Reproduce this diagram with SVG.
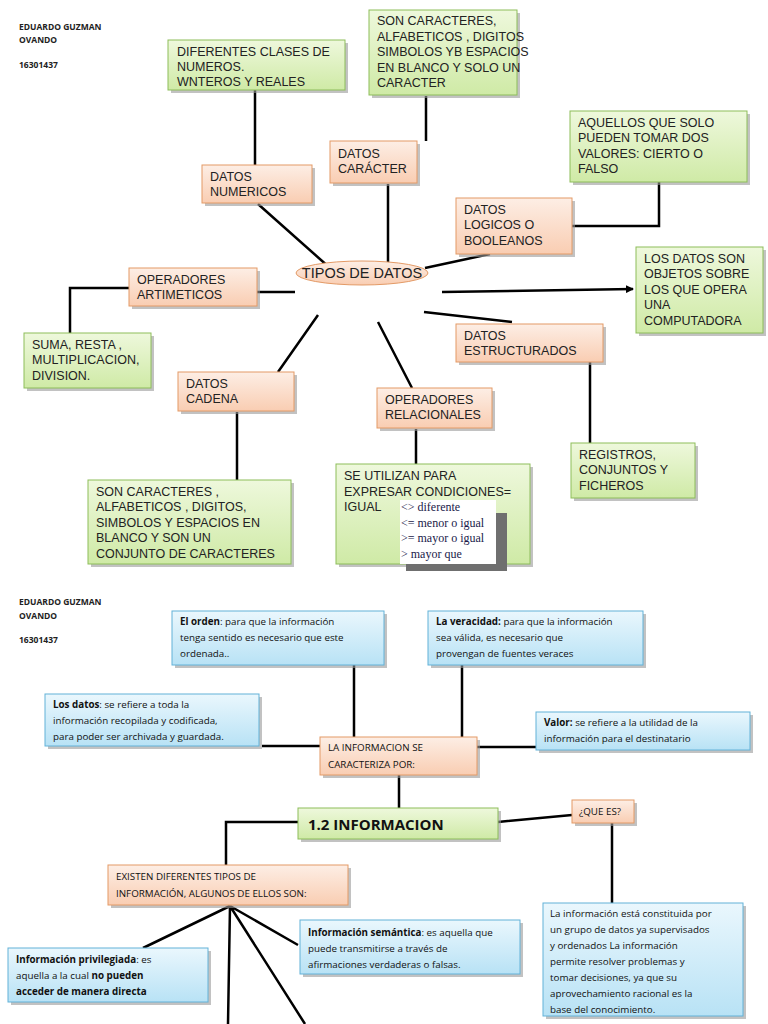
<svg xmlns="http://www.w3.org/2000/svg" width="768" height="1024" viewBox="0 0 768 1024">
<defs>
<linearGradient id="gg" x1="0" y1="0" x2="0" y2="1"><stop offset="0" stop-color="#eef8dc"/><stop offset="1" stop-color="#cfeaa6"/></linearGradient>
<linearGradient id="go" x1="0" y1="0" x2="0" y2="1"><stop offset="0" stop-color="#fdeee5"/><stop offset="1" stop-color="#f9cdb2"/></linearGradient>
<linearGradient id="gb" x1="0" y1="0" x2="0" y2="1"><stop offset="0" stop-color="#eaf7fd"/><stop offset="1" stop-color="#b8e2f5"/></linearGradient>
<marker id="arr" markerWidth="8" markerHeight="8" refX="7" refY="4" orient="auto" markerUnits="userSpaceOnUse"><path d="M0,0 L8,4 L0,8 z" fill="#000"/></marker>
</defs>
<style>
.g{fill:url(#gg);stroke:#8dbd5a;stroke-width:1}
.o{fill:url(#go);stroke:#e39a66;stroke-width:1}
.b{fill:url(#gb);stroke:#62b2d8;stroke-width:1}
.sh{fill:#9a9a9a;opacity:0.6}
.t{font-family:"Liberation Sans",Arial,sans-serif;font-size:12.5px;fill:#222}
.c{font-family:"Open Sans","Liberation Sans",sans-serif;font-size:9.8px;fill:#111}
.n{font-family:"Open Sans","Liberation Sans",sans-serif;font-size:8.5px;font-weight:bold;fill:#222}
.s{font-family:"Liberation Serif","Times New Roman",serif;font-size:12px;fill:#1a1a4a}
.ln{stroke:#000;stroke-width:2.5;fill:none}
</style>
<rect width="768" height="1024" fill="#fff"/>
<g id="connectors">
<path class="ln" d="M255,90V166 M426,96V141 M258,204L330,268 M388,184V266 M659,182V226H572 M490,254L425,268 M257,292H295 M129,288H70V335 M424,312L512,322 M590,362V444 M318,315L278,372 M237,412V480 M378,322L412,388 M416,429V464"/>
<path class="ln" d="M442,292L633,289" marker-end="url(#arr)"/>
<path class="ln" d="M354,665V738 M462,665V738 M262,746H320 M477,747H536 M399,775V808 M298,822H226V866 M498,822L572,815 M612,823V903 M230,906L143,948 M230,906L228,1024 M230,906L305,1024 M230,906L298,945"/>
</g>
<g id="author1"><text class="n" x="19" y="30">EDUARDO GUZMAN</text><text class="n" x="19" y="43">OVANDO</text><text class="n" x="19" y="68">16301437</text></g>
<g id="n-clases"><rect class="sh" x="171" y="43" width="177" height="50"/><rect class="g" x="168" y="40" width="177" height="50"/><text class="t" x="177" y="56">DIFERENTES CLASES DE</text><text class="t" x="177" y="71">NUMEROS.</text><text class="t" x="177" y="86">WNTEROS Y REALES</text></g>
<g id="n-soncar"><rect class="sh" x="372" y="13" width="148" height="85"/><rect class="g" x="369" y="10" width="148" height="85"/><text class="t" x="377" y="25">SON CARACTERES,</text><text class="t" x="377" y="41">ALFABETICOS , DIGITOS</text><text class="t" x="377" y="56">SIMBOLOS YB ESPACIOS</text><text class="t" x="377" y="72">EN BLANCO Y SOLO UN</text><text class="t" x="377" y="87">CARACTER</text></g>
<g id="n-num"><rect class="sh" x="205" y="168" width="110" height="38"/><rect class="o" x="202" y="165" width="110" height="38"/><text class="t" x="210" y="181">DATOS</text><text class="t" x="210" y="196">NUMERICOS</text></g>
<g id="n-car"><rect class="sh" x="333" y="144" width="87" height="42"/><rect class="o" x="330" y="141" width="87" height="42"/><text class="t" x="338" y="158">DATOS</text><text class="t" x="338" y="173">CARÁCTER</text></g>
<g id="n-aquellos"><rect class="sh" x="573" y="114" width="177" height="71"/><rect class="g" x="570" y="111" width="177" height="71"/><text class="t" x="578" y="127">AQUELLOS QUE SOLO</text><text class="t" x="578" y="142">PUEDEN TOMAR DOS</text><text class="t" x="578" y="158">VALORES: CIERTO O</text><text class="t" x="578" y="173">FALSO</text></g>
<g id="n-log"><rect class="sh" x="459" y="201" width="116" height="56"/><rect class="o" x="456" y="198" width="116" height="56"/><text class="t" x="464" y="214">DATOS</text><text class="t" x="464" y="229">LOGICOS O</text><text class="t" x="464" y="245">BOOLEANOS</text></g>
<g id="n-tipos"><ellipse cx="362" cy="273" rx="66" ry="12" fill="url(#go)" stroke="#e39a66"/><text class="t" x="362" y="278" text-anchor="middle" style="font-size:14.5px">TIPOS DE DATOS</text></g>
<g id="n-arit"><rect class="sh" x="132" y="271" width="128" height="38"/><rect class="o" x="129" y="268" width="128" height="38"/><text class="t" x="137" y="284">OPERADORES</text><text class="t" x="137" y="299">ARTIMETICOS</text></g>
<g id="n-suma"><rect class="sh" x="27" y="336" width="127" height="55"/><rect class="g" x="24" y="333" width="127" height="55"/><text class="t" x="32" y="349">SUMA, RESTA ,</text><text class="t" x="32" y="364">MULTIPLICACION,</text><text class="t" x="32" y="380">DIVISION.</text></g>
<g id="n-losdatos"><rect class="sh" x="639" y="250" width="127" height="86"/><rect class="g" x="636" y="247" width="127" height="86"/><text class="t" x="644" y="263">LOS DATOS SON</text><text class="t" x="644" y="278">OBJETOS SOBRE</text><text class="t" x="644" y="294">LOS QUE OPERA</text><text class="t" x="644" y="309">UNA</text><text class="t" x="644" y="325">COMPUTADORA</text></g>
<g id="n-estr"><rect class="sh" x="459" y="327" width="147" height="38"/><rect class="o" x="456" y="324" width="147" height="38"/><text class="t" x="464" y="340">DATOS</text><text class="t" x="464" y="355">ESTRUCTURADOS</text></g>
<g id="n-reg"><rect class="sh" x="574" y="446" width="124" height="55"/><rect class="g" x="571" y="443" width="124" height="55"/><text class="t" x="579" y="459">REGISTROS,</text><text class="t" x="579" y="474">CONJUNTOS Y</text><text class="t" x="579" y="490">FICHEROS</text></g>
<g id="n-cad"><rect class="sh" x="181" y="375" width="116" height="39"/><rect class="o" x="178" y="372" width="116" height="39"/><text class="t" x="186" y="388">DATOS</text><text class="t" x="186" y="403">CADENA</text></g>
<g id="n-soncar2"><rect class="sh" x="91" y="483" width="203" height="84"/><rect class="g" x="88" y="480" width="203" height="84"/><text class="t" x="96" y="496">SON CARACTERES ,</text><text class="t" x="96" y="511">ALFABETICOS , DIGITOS,</text><text class="t" x="96" y="527">SIMBOLOS Y ESPACIOS EN</text><text class="t" x="96" y="542">BLANCO Y SON UN</text><text class="t" x="96" y="558">CONJUNTO DE CARACTERES</text></g>
<g id="n-rel"><rect class="sh" x="380" y="391" width="115" height="40"/><rect class="o" x="377" y="388" width="115" height="40"/><text class="t" x="385" y="404">OPERADORES</text><text class="t" x="385" y="419">RELACIONALES</text></g>
<g id="n-util"><rect class="sh" x="339" y="467" width="194" height="100"/><rect class="g" x="336" y="464" width="194" height="100"/><text class="t" x="344" y="480">SE UTILIZAN PARA</text><text class="t" x="344" y="496">EXPRESAR CONDICIONES=</text><text class="t" x="344" y="511">IGUAL</text>
<rect x="406" y="513" width="101" height="58" fill="#6f6f6f"/><rect x="400" y="500" width="96" height="64" fill="#fff"/><text class="s" x="401" y="511">&lt;&gt; diferente</text><text class="s" x="401" y="527">&lt;= menor o igual</text><text class="s" x="401" y="542">&gt;= mayor o igual</text><text class="s" x="401" y="558">&gt; mayor que</text></g>
<g id="author2"><text class="n" x="19" y="605">EDUARDO GUZMAN</text><text class="n" x="19" y="619">OVANDO</text><text class="n" x="19" y="643">16301437</text></g>
<g id="n-orden"><rect class="sh" x="175" y="614" width="212" height="54"/><rect class="b" x="172" y="611" width="212" height="54"/><text class="c" x="180" y="625"><tspan font-weight="bold">El orden</tspan>: para que la información</text><text class="c" x="180" y="641">tenga sentido es necesario que este</text><text class="c" x="180" y="657">ordenada..</text></g>
<g id="n-ver"><rect class="sh" x="431" y="614" width="215" height="54"/><rect class="b" x="428" y="611" width="215" height="54"/><text class="c" x="436" y="625"><tspan font-weight="bold">La veracidad:</tspan> para que la información</text><text class="c" x="436" y="641">sea válida, es necesario que</text><text class="c" x="436" y="657">provengan de fuentes veraces</text></g>
<g id="n-datos"><rect class="sh" x="48" y="697" width="214" height="52"/><rect class="b" x="45" y="694" width="214" height="52"/><text class="c" x="53" y="708"><tspan font-weight="bold">Los datos</tspan>: se refiere a toda la</text><text class="c" x="53" y="724">información recopilada y codificada,</text><text class="c" x="53" y="740">para poder ser archivada y guardada.</text></g>
<g id="n-carac"><rect class="sh" x="323" y="740" width="157" height="38"/><rect class="o" x="320" y="737" width="157" height="38"/><text class="c" x="328" y="751">LA  INFORMACION SE</text><text class="c" x="328" y="768">CARACTERIZA POR:</text></g>
<g id="n-valor"><rect class="sh" x="539" y="715" width="214" height="38"/><rect class="b" x="536" y="712" width="214" height="38"/><text class="c" x="544" y="726"><tspan font-weight="bold">Valor:</tspan> se refiere a la utilidad de la</text><text class="c" x="544" y="742">información para el destinatario</text></g>
<g id="n-info"><rect class="sh" x="301" y="811" width="200" height="31"/><rect class="g" x="298" y="808" width="200" height="31"/><text class="c" x="308" y="830" style="font-size:15px;font-weight:bold">1.2 INFORMACION</text></g>
<g id="n-quees"><rect class="sh" x="575" y="803" width="62" height="23"/><rect class="o" x="572" y="800" width="62" height="23"/><text class="c" x="579" y="815">¿QUE ES?</text></g>
<g id="n-existen"><rect class="sh" x="111" y="868" width="240" height="40"/><rect class="o" x="108" y="865" width="240" height="40"/><text class="c" x="116" y="880">EXISTEN DIFERENTES TIPOS DE</text><text class="c" x="116" y="897">INFORMACIÓN, ALGUNOS DE ELLOS SON:</text></g>
<g id="n-priv"><rect class="sh" x="11" y="951" width="200" height="54"/><rect class="b" x="8" y="948" width="200" height="54"/><text class="c" x="16" y="963"><tspan font-weight="bold">Información privilegiada</tspan>: es</text><text class="c" x="16" y="979">aquella a la cual <tspan font-weight="bold">no pueden</tspan></text><text class="c" x="16" y="995" style="font-weight:bold">acceder de manera directa</text></g>
<g id="n-sem"><rect class="sh" x="303" y="923" width="220" height="54"/><rect class="b" x="300" y="920" width="220" height="54"/><text class="c" x="308" y="936"><tspan font-weight="bold">Información semántica</tspan>: es aquella que</text><text class="c" x="308" y="952">puede transmitirse a través de</text><text class="c" x="308" y="968">afirmaciones verdaderas o falsas.</text></g>
<g id="n-def"><rect class="sh" x="546" y="906" width="200" height="113"/><rect class="b" x="543" y="903" width="200" height="113"/><text class="c" x="550" y="917">La información está constituida por</text><text class="c" x="550" y="933">un grupo de datos ya supervisados</text><text class="c" x="550" y="949">y ordenados La información</text><text class="c" x="550" y="965">permite resolver problemas y</text><text class="c" x="550" y="981">tomar decisiones, ya que su</text><text class="c" x="550" y="997">aprovechamiento racional es la</text><text class="c" x="550" y="1013">base del conocimiento.</text></g>
</svg>
